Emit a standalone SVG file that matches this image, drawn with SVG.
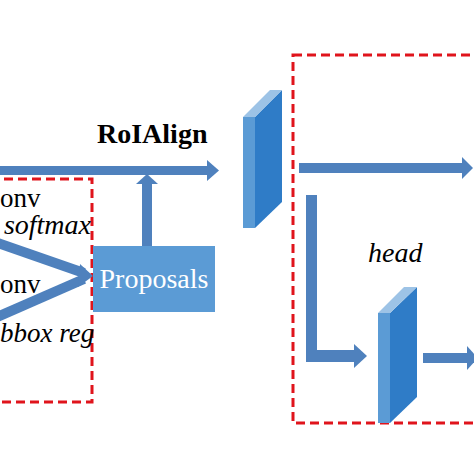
<svg xmlns="http://www.w3.org/2000/svg" width="474" height="474" viewBox="0 0 474 474">
<style>
.a{fill:#4F81BD}
.ln{stroke:#4F81BD;stroke-width:10;fill:none}
.dash{fill:none;stroke:#E0141C;stroke-width:3;stroke-dasharray:9,5}
.t{font-family:'Liberation Serif',Tinos,'Times New Roman',Times,serif;font-size:28px;fill:#000}
.i{font-style:italic}
.front{fill:#5B9BD5}
.side{fill:#2F7CC7}
.top{fill:#9DC3E6}
</style>
<rect width="474" height="474" fill="#fff"/>
<g id="rpn-box"><rect class="dash" x="-10" y="179" width="102" height="223"/></g>
<g id="head-box"><rect class="dash" x="293" y="55" width="200" height="368"/></g>
<g id="connectors">
<rect class="a" x="-5" y="166" width="214" height="9"/>
<polygon class="a" points="207,160 219,170.5 207,181"/>
<rect class="a" x="142" y="182" width="10" height="64"/>
<polygon class="a" points="136,184 147,174 158,184"/>
<line class="ln" x1="-5" y1="242" x2="84" y2="273"/>
<line class="ln" x1="-5" y1="318" x2="84" y2="279"/>
<polygon class="a" points="80,264 93,276 78,287"/>
<rect class="a" x="299" y="163" width="165" height="10"/>
<polygon class="a" points="462,157 473,168 462,179"/>
<path class="a" d="M306,195 H317 V350 H356 V362 H306 Z"/>
<polygon class="a" points="354,344 367,356 354,368"/>
<rect class="a" x="423" y="353" width="50" height="10"/>
<polygon class="a" points="467,346 478,358 467,370"/>
</g>
<g id="proposals">
<rect x="93" y="246" width="122" height="66" fill="#5B9BD5"/>
<text class="t" x="154" y="288" text-anchor="middle" style="fill:#fff">Proposals</text>
</g>
<g id="roialign-label"><text class="t" x="97" y="143" font-weight="bold">RoIAlign</text></g>
<g id="rpn-labels">
<text class="t" x="0" y="207" style="font-size:27px">onv</text>
<text class="t i" x="91" y="234" text-anchor="end">softmax</text>
<text class="t" x="0" y="293" style="font-size:27px">onv</text>
<text class="t i" x="0" y="342" style="font-size:27px">bbox reg</text>
</g>
<g id="feature-map-1">
<polygon class="side" points="255,117 282,90 282,202 255,228"/>
<polygon class="top" points="243,117 270,90 282,90 255,117"/>
<rect class="front" x="243" y="117" width="12" height="111"/>
</g>
<g id="head-label"><text class="t i" x="368" y="262">head</text></g>
<g id="feature-map-2">
<polygon class="side" points="390,313 417,287 417,397 390,423"/>
<polygon class="top" points="378,313 404,287 417,287 390,313"/>
<rect class="front" x="378" y="313" width="12" height="110"/>
</g>
</svg>
